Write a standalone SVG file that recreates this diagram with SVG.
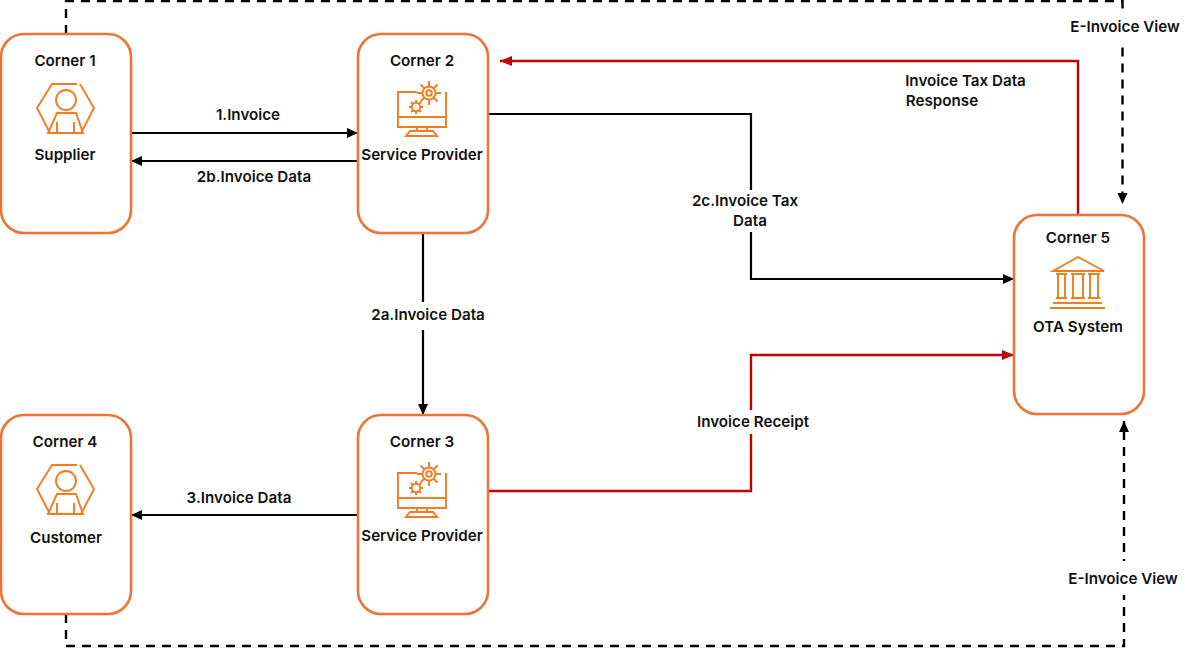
<svg xmlns="http://www.w3.org/2000/svg" width="1192" height="648" viewBox="0 0 1192 648">
<style>
text{font-family:"Inter","Liberation Sans",Arial,sans-serif;font-weight:600;font-size:15.2px;fill:#111;text-anchor:middle}
.box{fill:#fff;stroke:#EE7436;stroke-width:2.6}
.k{fill:none;stroke:#000;stroke-width:2.2}
.r{fill:none;stroke:#C00000;stroke-width:2.4}
.d{fill:none;stroke:#000;stroke-width:2.4;stroke-dasharray:9 7}
.i{fill:none;stroke:#F47B20;stroke-width:1.9}
.bg{fill:#fff;stroke:none}
</style>
<defs>
<marker id="ak" markerUnits="userSpaceOnUse" markerWidth="12" markerHeight="11" refX="11" refY="5.500" orient="auto"><path d="M0 0.500L11 5.500L0 10.500Z" fill="#000"/></marker>
<marker id="ar" markerUnits="userSpaceOnUse" markerWidth="13" markerHeight="11" refX="12" refY="5.500" orient="auto"><path d="M0 0.500L12 5.500L0 10.500Z" fill="#C00000"/></marker>
<symbol id="person" overflow="visible">
<path class="i" d="M11 0H-14L-29 24L-16 49M14 0L28 24L15 49"/>
<circle class="i" cx="0" cy="16" r="10"/>
<path class="i" d="M-9 29H10L17 49H-18ZM-9 38V49M8 38V49"/>
</symbol>
<symbol id="gear" overflow="visible">
<path class="i" d="M19 9H0V44H48V9M0 34H48M19 44V48M29 44V48M12 48H35L39 53H8Z"/>
<circle class="i" cx="31" cy="10" r="6.500"/><circle class="i" cx="31" cy="10" r="2.800"/>
<path class="i" d="M31 -2V3.500M31 16.500V22M19 10H24.500M37.500 10H43M22.500 1.500L26.400 5.400M35.600 14.600L39.500 18.500M22.500 18.500L26.400 14.600M35.600 5.400L39.500 1.500"/>
<circle class="i" cx="18" cy="24" r="4.200"/>
<path class="i" d="M18 17V19.800M18 28.200V31M11 24H13.800M22.200 24H25M13 19L15 21M21 27L23 29M13 29L15 27M21 21L23 19"/>
</symbol>
</defs>

<g id="connectors">
<path class="k" d="M131 133H358" marker-end="url(#ak)"/>
<path class="k" d="M358 161H131" marker-end="url(#ak)"/>
<path class="k" d="M488 114H751V279H1014" marker-end="url(#ak)"/>
<path class="k" d="M423 234V415" marker-end="url(#ak)"/>
<path class="k" d="M358 515H131" marker-end="url(#ak)"/>
<path class="r" d="M488 491H751V355H1014" marker-end="url(#ar)"/>
<path class="r" d="M1078 215V61H500" marker-end="url(#ar)"/>
<path class="d" d="M66 34V1H1122.500V204" marker-end="url(#ak)"/>
<path class="d" d="M66 614V646H1124V421" marker-end="url(#ak)"/>
</g>

<g id="labels">
<g id="label-1"><text x="248" y="119.500">1.Invoice</text></g>
<g id="label-2b"><text x="254" y="181.500">2b.Invoice Data</text></g>
<g id="label-2a"><rect class="bg" x="366" y="302" width="124" height="28"/><text x="428" y="319.500">2a.Invoice Data</text></g>
<g id="label-3"><text x="239" y="503">3.Invoice Data</text></g>
<g id="label-2c"><rect class="bg" x="686" y="190" width="118" height="42"/><text x="745" y="206">2c.Invoice Tax</text><text x="750" y="226">Data</text></g>
<g id="label-receipt"><rect class="bg" x="690" y="410" width="126" height="24"/><text x="753" y="427">Invoice Receipt</text></g>
<g id="label-response"><text x="965.500" y="86">Invoice Tax Data</text><text x="942" y="106">Response</text></g>
<g id="label-view-top"><rect class="bg" x="1066" y="10" width="118" height="33"/><text x="1125" y="32">E-Invoice View</text></g>
<g id="label-view-bottom"><rect class="bg" x="1066" y="561" width="116" height="34"/><text x="1123" y="584">E-Invoice View</text></g>
</g>

<g id="corner-1"><rect class="box" x="1" y="34" width="130" height="199" rx="23"/><text x="65" y="65.500">Corner 1</text><use href="#person" x="66" y="84"/><text x="65" y="159.500">Supplier</text></g>
<g id="corner-2"><rect class="box" x="358" y="34" width="130" height="199" rx="23"/><text x="422" y="65.500">Corner 2</text><use href="#gear" x="398" y="83"/><text x="422" y="159.500">Service Provider</text></g>
<g id="corner-3"><rect class="box" x="358" y="415" width="130" height="199" rx="23"/><text x="422" y="446.500">Corner 3</text><use href="#gear" x="398" y="464"/><text x="422" y="540.500">Service Provider</text></g>
<g id="corner-4"><rect class="box" x="1" y="415" width="130" height="199" rx="23"/><text x="65" y="446.500">Corner 4</text><use href="#person" x="66" y="465"/><text x="66" y="542.500">Customer</text></g>
<g id="corner-5"><rect class="box" x="1014" y="215" width="130" height="199" rx="23"/><text x="1078" y="242.500">Corner 5</text>
<g id="bank"><path class="i" d="M1053 271L1078 257L1104 271ZM1058 274V298M1065 274V298M1073 274V298M1083 274V298M1090 274V298M1098 274V298M1056 274H1067M1071 274H1085M1088 274H1100M1056 298H1067M1071 298H1085M1088 298H1100M1053 303H1102M1050 308H1105"/></g>
<text x="1078" y="331.500">OTA System</text></g>
</svg>
